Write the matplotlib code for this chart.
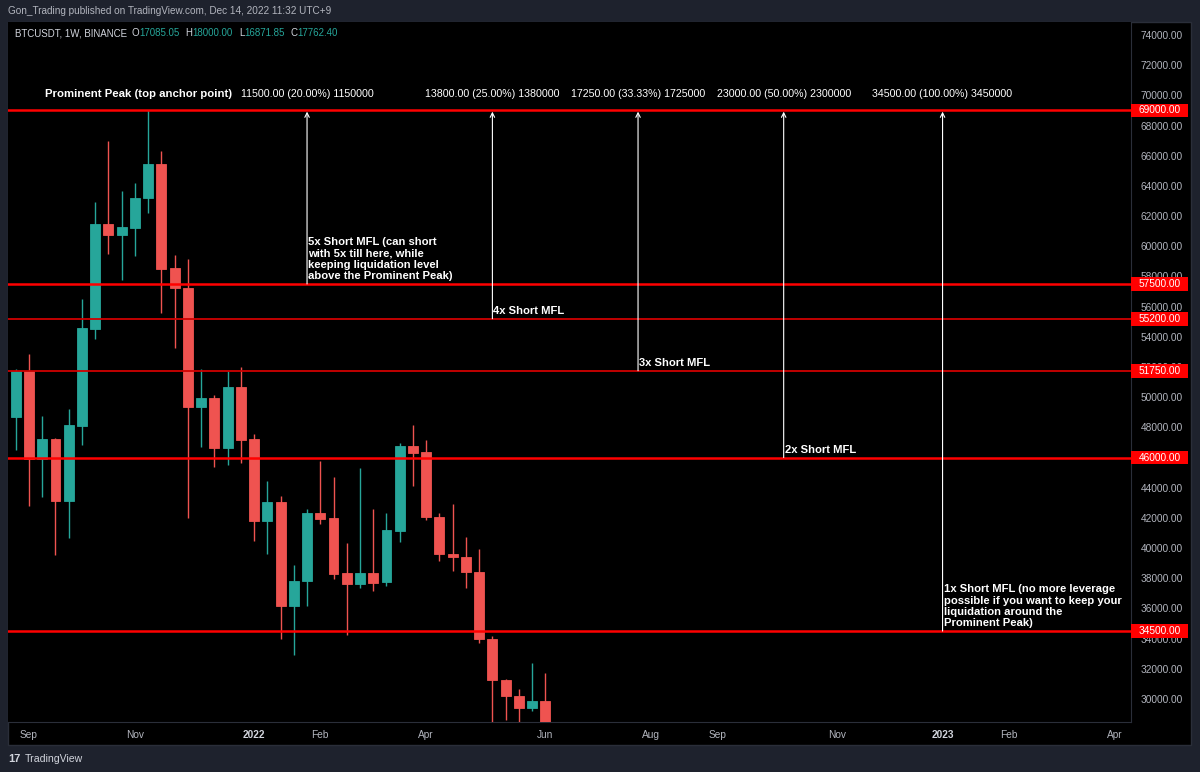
import matplotlib
matplotlib.use("Agg")
import matplotlib.pyplot as plt
import matplotlib.transforms as mtransforms
from matplotlib.patches import Rectangle
import numpy as np
import pandas as pd

plt.rcParams['font.family'] = ['Liberation Sans', 'DejaVu Sans']

# weekly candles, first bar = week of 2021-08-23
start = '2021-08-23'
opens = [49220, 48700, 51730, 45920, 47210, 43100, 48110, 54540, 61470, 60750,
         61230, 63180, 65450, 58560, 57210, 49330, 49970, 46610, 50690, 47210,
         41810, 43030, 36160, 37840, 42350, 41990, 38330, 37600, 38370, 37750,
         41150, 46780, 46340, 42080, 39600, 39430, 38410, 33950, 31260, 30190,
         29420, 29860]
highs = [50500, 51850, 52860, 48770, 47320, 49215, 56500, 62910, 66970, 63660,
         64190, 69000, 66330, 59400, 59130, 51870, 50120, 51730, 52000, 47540,
         44440, 43450, 38860, 42610, 45770, 44710, 40310, 45330, 42570, 42350,
         46940, 48150, 47160, 42340, 42920, 40730, 39940, 34170, 31300, 30640,
         32360, 31700]
lows = [46400, 46500, 42810, 43360, 39540, 40690, 46830, 53850, 59470, 57760,
        59360, 62220, 55560, 53240, 41970, 46720, 45400, 45500, 45660, 40490,
        39600, 33950, 32890, 36180, 41610, 37970, 34240, 37370, 37130, 37500,
        40420, 44130, 41860, 39160, 38500, 37330, 33690, 26700, 28600, 28000,
        29220, 26560]
closes = [48690, 51730, 45920, 47210, 43100, 48150, 54560, 61470, 60750, 61280,
          63200, 65450, 58520, 57210, 49330, 49970, 46610, 50690, 47160, 41810,
          43030, 36160, 37840, 42350, 41950, 38290, 37600, 38370, 37690, 41200,
          46780, 46320, 42040, 39600, 39390, 38410, 33950, 31240, 30190, 29420,
          29860, 26570]

levels = [69000, 57500, 55200, 51750, 46000, 34500]
level_bright = [True, True, False, False, True, True]
arrow_dates = ['2022-01-31', '2022-05-09', '2022-07-25', '2022-10-10', '2023-01-02']
mfl_notes = [
    "5x Short MFL (can short\nwith 5x till here, while\nkeeping liquidation level\nabove the Prominent Peak)",
    "4x Short MFL",
    "3x Short MFL",
    "2x Short MFL",
    "1x Short MFL (no more leverage\npossible if you want to keep your\nliquidation around the\nProminent Peak)",
]
tick_dates = ['2021-09-06', '2021-11-01', '2022-01-03', '2022-02-07', '2022-04-04',
              '2022-06-06', '2022-08-01', '2022-09-05', '2022-11-07', '2023-01-02',
              '2023-02-06', '2023-04-03']
tick_labels = ['Sep', 'Nov', '2022', 'Feb', 'Apr', 'Jun', 'Aug', 'Sep', 'Nov',
               '2023', 'Feb', 'Apr']
price_ticks = np.arange(30000, 74001, 2000)
legend_vals = ['17085.05', '18000.00', '16871.85', '17762.40']


def week_pos(d):
    return (pd.Timestamp(d) - pd.Timestamp(start)).days / 7


W, H = 1200, 772
UP, DOWN = '#26a69a', '#ef5350'
GRID = '#2a2e39'
TXT = '#d1d4dc'

fig = plt.figure(figsize=(W / 100, H / 100), dpi=100)
fig.patch.set_facecolor('#1e222d')
fig.add_artist(Rectangle((8 / W, 1 - 745 / H), 1183 / W, 723 / H,
                         transform=fig.transFigure, facecolor='black',
                         edgecolor=GRID, lw=1, zorder=0))

ax = fig.add_axes([8 / W, 1 - 722 / H, 1123 / W, 700 / H])
ax.set_facecolor('black')
for s in ax.spines.values():
    s.set_visible(False)
ax.spines['right'].set_visible(True)
ax.spines['right'].set_color(GRID)
ax.spines['bottom'].set_visible(True)
ax.spines['bottom'].set_color(GRID)

# candles
x = np.arange(len(opens))
for i in x:
    o, h, l, c = opens[i], highs[i], lows[i], closes[i]
    col = UP if c >= o else DOWN
    ax.vlines(i, l, h, color=col, lw=1, zorder=3)
    ax.bar(i, max(abs(c - o), 70), bottom=min(o, c), width=0.75,
           color=col, edgecolor=col, lw=0.6, zorder=4)

# levels
for lvl, bright in zip(levels, level_bright):
    ax.axhline(lvl, color='#ff0000' if bright else '#d00000',
               lw=1.8 if bright else 1.3, zorder=5)

# arrows and notes
peak = levels[0]
for d, lvl, note in zip(arrow_dates, levels[1:], mfl_notes):
    xp = week_pos(d)
    ax.annotate('', xy=(xp, peak - 80), xytext=(xp, lvl),
                arrowprops=dict(arrowstyle='->', color='white', lw=0.8,
                                shrinkA=0, shrinkB=0, mutation_scale=8),
                zorder=6)
    diff = peak - lvl
    lab = f"{diff:.2f} ({diff / lvl * 100:.2f}%) {int(diff * 100)}"
    ax.text(xp, 70100, lab, ha='center', va='center', color='white',
            fontsize=7.7, zorder=7)
    ax.text(xp + 0.08, lvl + 180, note, ha='left', va='bottom', color='white',
            fontsize=8.1, fontweight='bold', linespacing=1.16, zorder=7)

ax.text(3.2, 70100, 'Prominent Peak (top anchor point)', ha='left', va='center',
        color='white', fontsize=8.2, fontweight='bold', zorder=7)

# axes limits from chart calibration
ax.set_xlim(2 + (8 - 29) / 13.24, 2 + (1131 - 29) / 13.24)
ax.set_ylim(28473, 74861)

ax.yaxis.tick_right()
ax.set_yticks(price_ticks)
ax.set_yticklabels([f"{v:.2f}" for v in price_ticks])
ax.tick_params(axis='y', length=0, pad=7, labelsize=7.3, labelcolor='#b2b5be')

ax.set_xticks([week_pos(d) for d in tick_dates])
ax.set_xticklabels(tick_labels)
ax.tick_params(axis='x', length=0, pad=6, labelsize=7.3, labelcolor='#b2b5be')
for t in ax.get_xticklabels():
    if t.get_text().isdigit():
        t.set_color(TXT)
        t.set_fontweight('bold')

# red price labels on the axis
bt = mtransforms.blended_transform_factory(ax.transAxes, ax.transData)
box_w = 57 / 1123
for lvl in levels:
    ax.add_patch(Rectangle((1.0, lvl - 460), box_w, 920, transform=bt,
                           facecolor='#ff0000', edgecolor='none',
                           clip_on=False, zorder=8))
    ax.text(1.0 + box_w / 2, lvl, f"{lvl:.2f}", transform=bt, ha='center',
            va='center', color='white', fontsize=7.3, clip_on=False, zorder=9)

# header
fig.text(8 / W, 1 - 11 / H, 'Gon_Trading published on TradingView.com, Dec 14, 2022 11:32 UTC+9',
         color='#b2b5be', fontsize=7.2, va='center')

parts = [('O', TXT, 3.5), (legend_vals[0], UP, 0), ('H', TXT, 4.2), (legend_vals[1], UP, 0),
         ('L', TXT, 4.2), (legend_vals[2], UP, 0), ('C', TXT, 4.2), (legend_vals[3], UP, 0)]
prev = fig.text(15 / W, 1 - 33 / H, 'BTCUSDT, 1W, BINANCE', color=TXT,
                fontsize=7.0, va='center')
for txt, col, gap in parts:
    prev = ax.annotate(txt, xy=(1, 0), xycoords=prev, xytext=(gap, 0),
                       textcoords='offset points', ha='left', va='bottom',
                       color=col, fontsize=7.0, annotation_clip=False)

# logo
fig.text(8 / W, 1 - 759 / H, '17', color=TXT, fontsize=8,
         fontweight='bold', va='center')
fig.text(25 / W, 1 - 759 / H, 'TradingView', color=TXT, fontsize=7.6,
         va='center')

fig.savefig('out.png', dpi=100, facecolor=fig.get_facecolor())
